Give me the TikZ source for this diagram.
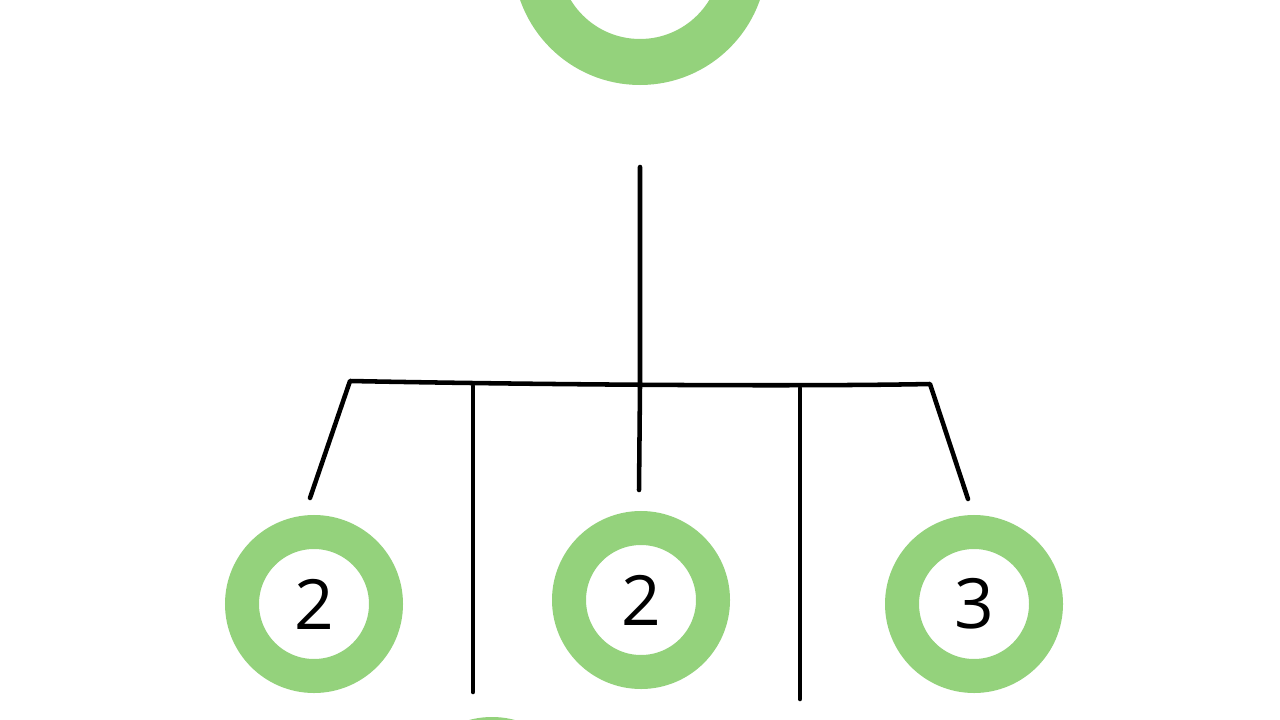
\documentclass[tikz,border=0pt]{standalone}
\usepackage{fontspec}
\setmainfont{Open Sans}
\definecolor{ringgreen}{RGB}{148,210,124}
\begin{document}
\begin{tikzpicture}[x=0.75pt,y=-0.75pt,
  ring/.style={circle,draw=ringgreen,line width=25.5pt,minimum size=108pt,inner sep=0pt,
    font=\fontsize{52}{52}\selectfont},
  bigring/.style={circle,draw=ringgreen,line width=34.5pt,minimum size=156pt,inner sep=0pt},
  wire/.style={draw=black,line width=3.4pt,line cap=round,line join=round}]
\useasboundingbox (0,0) rectangle (1280,720);
\node[bigring] (top) at (640,-42) {};
\node[ring] (a) at (314,604) {2};
\node[ring] (b) at (641,600) {2};
\node[ring] (c) at (974,604) {3};
\node[ring] (d) at (492,806) {};
\coordinate (t1) at (640,167);
\coordinate (m) at (640,386);
\coordinate (bl) at (350,381);
\coordinate (br) at (930,384);
\coordinate (l1) at (473,386);
\coordinate (l2) at (473,692);
\coordinate (r1) at (800,388);
\coordinate (r2) at (800,699);
\coordinate (la) at (310,498);
\coordinate (rc) at (968,499);
\coordinate (mb) at (639,490);
\draw[wire] (t1) -- (m) -- (mb);
\draw[wire] (la) -- (bl) .. controls (500,384) and (780,387) .. (br) -- (rc);
\draw[wire] (l1) -- (l2);
\draw[wire] (r1) -- (r2);
\end{tikzpicture}
\end{document}
